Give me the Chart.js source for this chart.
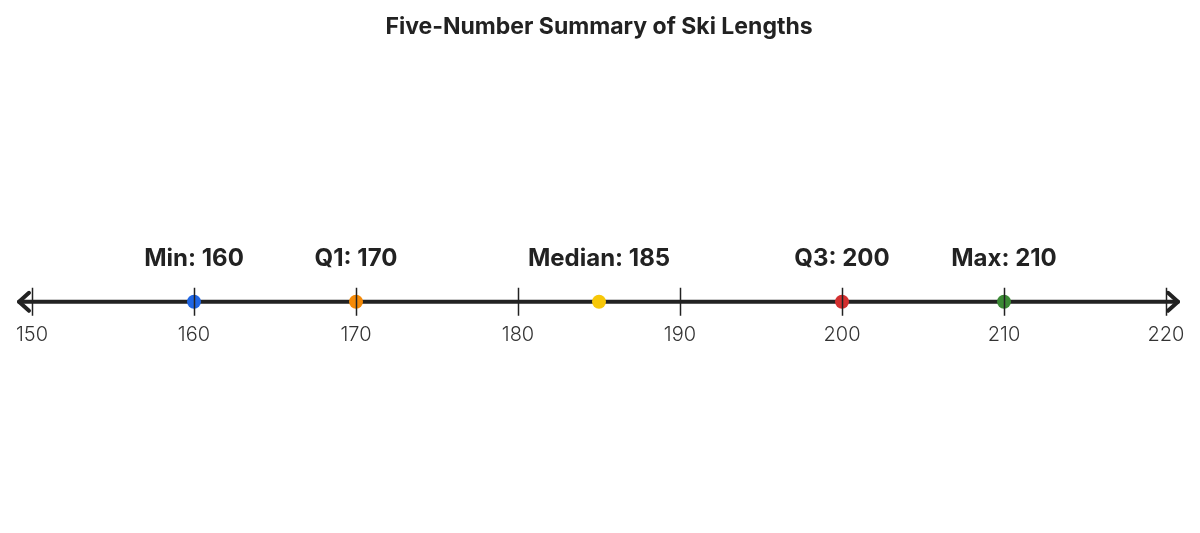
<!DOCTYPE html>
<html>
<head>
<meta charset="utf-8">
<script src="https://cdn.jsdelivr.net/npm/chart.js@4.4.0/dist/chart.umd.min.js"></script>
<style>
  html, body { margin: 0; padding: 0; background: #fff; }
  #wrap { width: 1200px; height: 533px; }
</style>
</head>
<body>
<div id="wrap"><canvas id="chart"></canvas></div>
<script>
// five-number summary
var statNames = ["Min", "Q1", "Median", "Q3", "Max"];
var statValues = [160, 170, 185, 200, 210];
var statColors = ["#1f66e5", "#f58a07", "#f7c708", "#d32f2f", "#3b8a35"];
var axisMin = 150;
var axisMax = 220;
var tickStep = 10;

var ink = "#222222";

// draws the number line with arrows, tick marks and the point labels
var numberLine = {
  id: "numberLine",
  beforeDatasetsDraw: function(chart) {
    var ctx = chart.ctx;
    var x = chart.scales.x, y = chart.scales.y;
    var y0 = y.getPixelForValue(0);
    var left = x.getPixelForValue(axisMin) - 13;
    var right = x.getPixelForValue(axisMax) + 12;
    ctx.save();
    ctx.strokeStyle = ink;
    ctx.lineWidth = 4;
    ctx.lineCap = "round";
    ctx.lineJoin = "round";
    ctx.beginPath();
    ctx.moveTo(left, y0);
    ctx.lineTo(right, y0);
    ctx.stroke();
    // arrow heads
    ctx.beginPath();
    ctx.moveTo(left + 10, y0 - 9);
    ctx.lineTo(left, y0);
    ctx.lineTo(left + 10, y0 + 9);
    ctx.moveTo(right - 10, y0 - 9);
    ctx.lineTo(right, y0);
    ctx.lineTo(right - 10, y0 + 9);
    ctx.stroke();
    ctx.restore();
  },
  afterDatasetsDraw: function(chart) {
    var ctx = chart.ctx;
    var x = chart.scales.x, y = chart.scales.y;
    var y0 = y.getPixelForValue(0);
    ctx.save();
    ctx.strokeStyle = ink;
    ctx.lineWidth = 1.5;
    for (var v = axisMin; v <= axisMax; v += tickStep) {
      var px = Math.round(x.getPixelForValue(v)) + 0.5;
      ctx.beginPath();
      ctx.moveTo(px, y0 - 14);
      ctx.lineTo(px, y0 + 14);
      ctx.stroke();
    }
    ctx.fillStyle = ink;
    ctx.font = "bold 24px Inter";
    ctx.textAlign = "center";
    ctx.textBaseline = "middle";
    for (var i = 0; i < statValues.length; i++) {
      ctx.fillText(statNames[i] + ": " + statValues[i], x.getPixelForValue(statValues[i]), y0 - 43);
    }
    ctx.restore();
  }
};

new Chart(document.getElementById("chart"), {
  type: "scatter",
  data: {
    datasets: [{
      data: statValues.map(function(v) { return { x: v, y: 0 }; }),
      backgroundColor: statColors,
      borderWidth: 0,
      pointRadius: 7,
      pointHoverRadius: 7
    }]
  },
  options: {
    responsive: true,
    maintainAspectRatio: false,
    animation: false,
    layout: { padding: { left: 32, right: 34, top: 0, bottom: 0 } },
    plugins: {
      legend: { display: false },
      tooltip: { enabled: false },
      title: {
        display: true,
        text: "Five-Number Summary of Ski Lengths",
        color: ink,
        font: { family: "Inter", size: 23, weight: "bold" },
        padding: { top: 13, bottom: 10 }
      }
    },
    scales: {
      x: {
        type: "linear",
        position: { y: 0 },
        min: axisMin,
        max: axisMax,
        border: { display: false },
        grid: { display: false },
        ticks: {
          stepSize: tickStep,
          color: "#333333",
          padding: 13,
          font: { family: "Inter", size: 20, weight: 300 }
        }
      },
      y: {
        display: false,
        min: -1,
        max: 1.12
      }
    }
  },
  plugins: [numberLine]
});
</script>
</body>
</html>
